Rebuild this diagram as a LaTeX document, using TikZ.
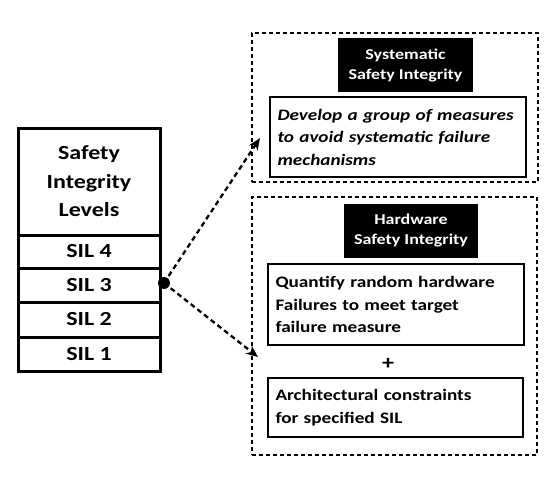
\documentclass[tikz,border=0pt]{standalone}
\usepackage{fontspec}
\setmainfont[FakeStretch=1.2]{Carlito}
\usetikzlibrary{arrows.meta}
\tikzset{
  silbox/.style={draw, line width=3pt, fill=white, minimum width=142pt, inner sep=0pt, font=\fontsize{20}{28.5}\selectfont\bfseries, align=center},
  dashbox/.style={draw, line width=2.2pt, dash pattern=on 4pt off 3pt},
  titlebox/.style={fill=black, text=white, inner sep=0pt, align=center, font=\fontsize{15}{20}\selectfont\bfseries},
  textbox/.style={draw, line width=2.5pt, inner xsep=7pt, inner ysep=0pt, align=left, font=\fontsize{16}{22.5}\selectfont\bfseries},
  dasharrow/.style={line width=2.3pt, dash pattern=on 5pt off 3.5pt, -{Stealth[length=12pt,width=10pt]}}
}
\begin{document}
\begin{tikzpicture}[x=1pt,y=-1pt]
\useasboundingbox (0,0) rectangle (552,479);
% left stack
\node[silbox, minimum height=107pt] (hdr) at (89,181.5) {Safety\\Integrity\\Levels};
\node[silbox, minimum height=33pt] (sil4) at (89,251.5) {SIL 4};
\node[silbox, minimum height=34pt] (sil3) at (89,285) {SIL 3};
\node[silbox, minimum height=35pt] (sil2) at (89,319.5) {SIL 2};
\node[silbox, minimum height=34pt] (sil1) at (89,354) {SIL 1};
% dashed containers
\node[dashbox, minimum width=286pt, minimum height=149pt, inner sep=0pt] (sysbox) at (395,107.5) {};
\node[dashbox, minimum width=285pt, minimum height=258pt, inner sep=0pt] (hwbox) at (394.5,326) {};
% systematic
\node[titlebox, minimum width=135pt, minimum height=54pt] (systitle) at (405.5,65) {Systematic\\Safety Integrity};
\node[textbox, minimum width=256pt, minimum height=80pt, text width=241pt] (sysdesc) at (398,137) {\itshape Develop a group of measures\\\itshape to avoid systematic failure\\\itshape mechanisms};
% hardware
\node[titlebox, minimum width=134pt, minimum height=54pt] (hwtitle) at (411,231) {Hardware\\Safety Integrity};
\node[textbox, minimum width=256pt, minimum height=81pt, text width=241pt] (hwdesc) at (396,304.5) {Quantify random hardware\\Failures to meet target\\failure measure};
\node[font=\fontsize{20}{20}\selectfont\bfseries, inner sep=0pt] (plus) at (388,364) {+};
\node[textbox, minimum width=255pt, minimum height=59pt, text width=240pt] (archdesc) at (395.5,407.5) {Architectural constraints\\for specified SIL};
% connectors
\coordinate (dot) at (164,283);
\coordinate (tipA) at (260,138);
\coordinate (tipB) at (258,357);
\draw[dasharrow] (dot) -- (tipA);
\draw[dasharrow] (dot) -- (tipB);
\fill (dot) circle (6pt);
\end{tikzpicture}
\end{document}
